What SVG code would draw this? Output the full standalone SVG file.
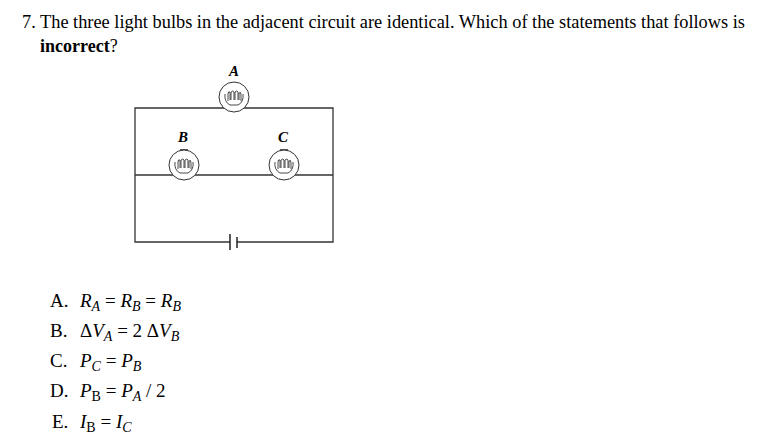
<svg xmlns="http://www.w3.org/2000/svg" width="768" height="448" viewBox="0 0 768 448" font-family="'Liberation Serif', 'Times New Roman', serif">
<style>
.q{font-size:18px}
.a{font-size:19px}
.w{stroke:#333;stroke-width:1.3;fill:none}
.b{stroke:#333;stroke-width:1;fill:#fff}
.f{stroke:#333;stroke-width:0.9;fill:none}
.l{font-size:15px;font-style:italic;font-weight:bold}
.s{font-size:14px}
.i{font-style:italic}
</style>
<defs>
<g id="bulb">
<circle class="b" cx="0" cy="0" r="15"/>
<path class="f" d="M-9,-3 Q-10,5 -4,8 L4,8 Q10,5 9,-3"/>
<path class="f" d="M-6,4 L-6,-3 Q-6,-6 -4,-5 L-4,3 M-3,3 L-3,-5 Q-1,-7 0,-5 L0,3 M1,3 L1,-5 Q3,-7 4,-5 L4,3 M5,3 L5,-4 Q7,-6 7,-2 L7,4"/>
</g>
</defs>
<text class="q" x="22" y="28" textLength="723" lengthAdjust="spacingAndGlyphs">7.  The three light bulbs in the adjacent circuit are identical. Which of the statements that follows is</text>
<text class="q" x="40" y="52"><tspan font-weight="bold">incorrect</tspan>?</text>
<g id="connectors">
<path class="w" d="M230,242 H135 V108 H333 V242 H237"/>
<line class="w" x1="135" y1="175" x2="333" y2="175"/>
</g>
<g id="battery">
<line x1="230" y1="234" x2="230" y2="250" stroke="#222" stroke-width="1.5"/>
<line x1="237" y1="237" x2="237" y2="248" stroke="#222" stroke-width="1.5"/>
</g>
<g id="bulbA"><use href="#bulb" x="234" y="97"/><text class="l" x="229" y="76">A</text></g>
<g id="bulbB"><line x1="180" y1="150" x2="188" y2="150" stroke="#222" stroke-width="1.5"/><use href="#bulb" x="184" y="165"/><text class="l" x="178" y="142">B</text></g>
<g id="bulbC"><line x1="280" y1="150" x2="288" y2="150" stroke="#222" stroke-width="1.5"/><use href="#bulb" x="284" y="165"/><text class="l" x="278" y="142">C</text></g>
<g id="answers">
<text class="a" x="50" y="307">A.</text>
<text class="a" x="80" y="307"><tspan class="i">R</tspan><tspan class="i s" dy="4">A</tspan><tspan dy="-4"> = </tspan><tspan class="i">R</tspan><tspan class="i s" dy="4">B</tspan><tspan dy="-4"> = </tspan><tspan class="i">R</tspan><tspan class="i s" dy="4">B</tspan></text>
<text class="a" x="50" y="337">B.</text>
<text class="a" x="80" y="337">Δ<tspan class="i">V</tspan><tspan class="i s" dy="4">A</tspan><tspan dy="-4"> = 2 Δ</tspan><tspan class="i">V</tspan><tspan class="i s" dy="4">B</tspan></text>
<text class="a" x="50" y="367">C.</text>
<text class="a" x="80" y="367"><tspan class="i">P</tspan><tspan class="i s" dy="4">C</tspan><tspan dy="-4"> = </tspan><tspan class="i">P</tspan><tspan class="i s" dy="4">B</tspan></text>
<text class="a" x="50" y="397">D.</text>
<text class="a" x="80" y="397"><tspan class="i">P</tspan><tspan class="s" dy="4">B</tspan><tspan dy="-4"> = </tspan><tspan class="i">P</tspan><tspan class="i s" dy="4">A</tspan><tspan dy="-4"> / 2</tspan></text>
<text class="a" x="52" y="428">E.</text>
<text class="a" x="80" y="428"><tspan class="i">I</tspan><tspan class="s" dy="4">B</tspan><tspan dy="-4"> = </tspan><tspan class="i">I</tspan><tspan class="i s" dy="4">C</tspan></text>
</g>
</svg>
